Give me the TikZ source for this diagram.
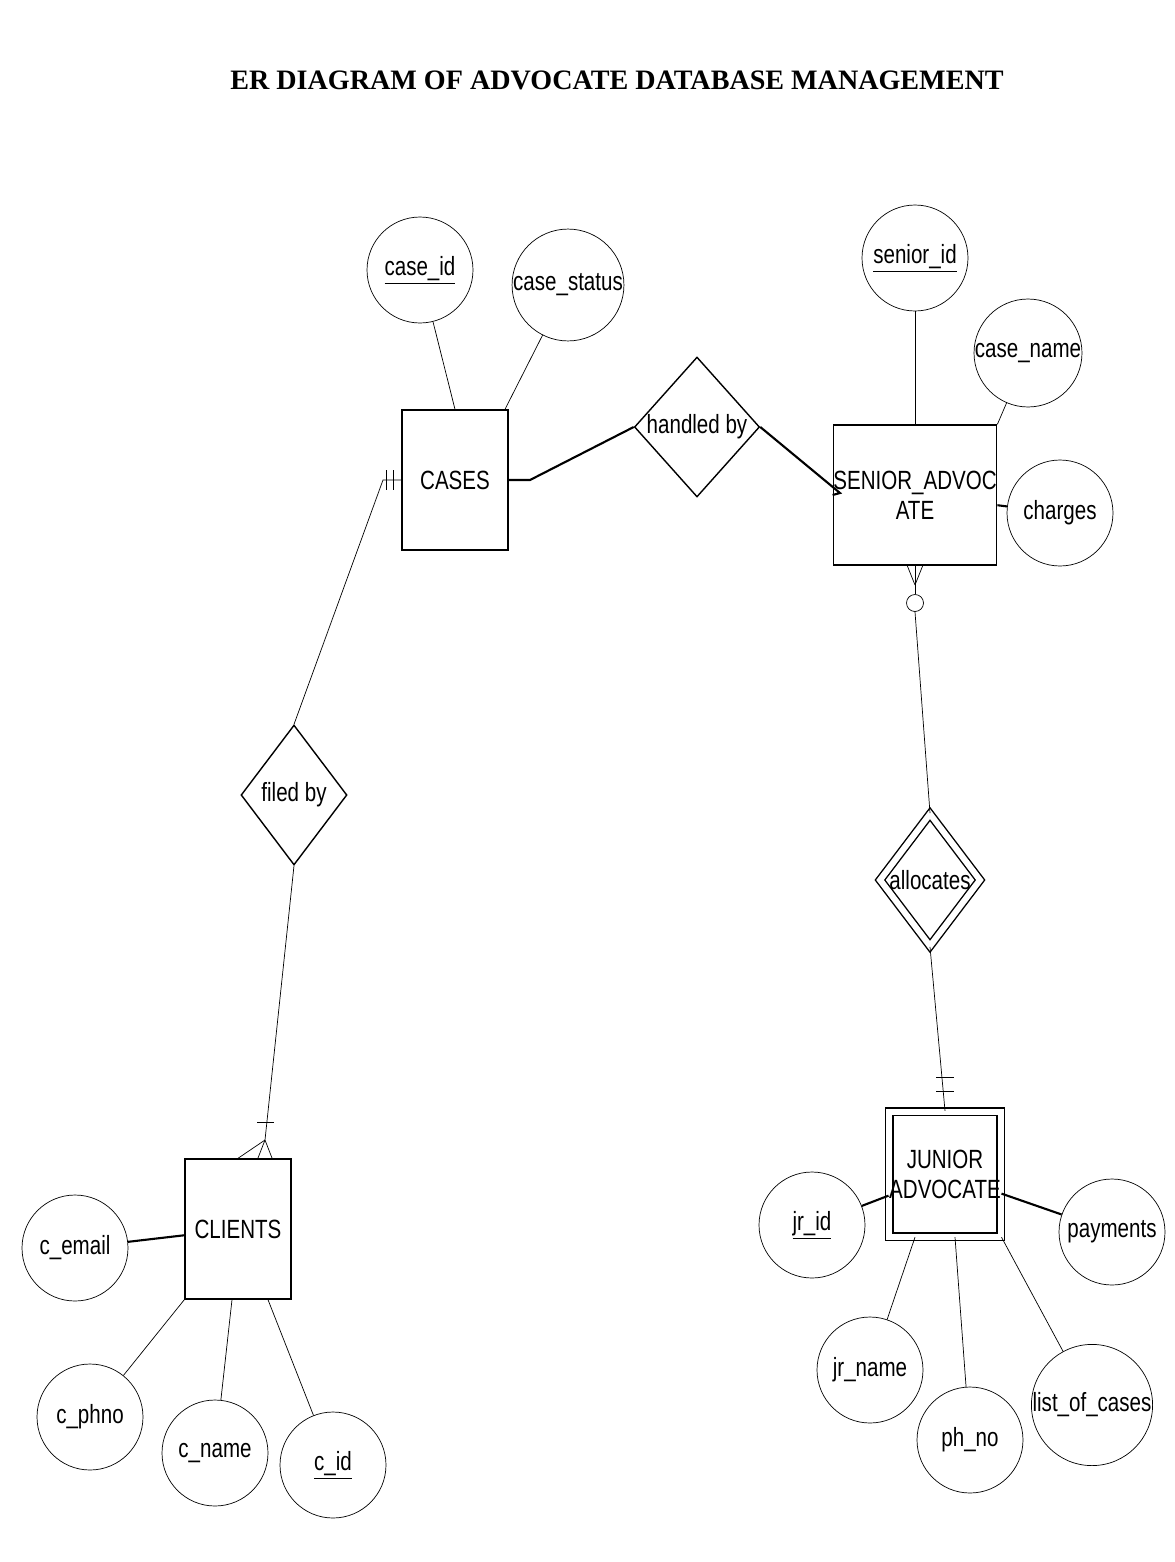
\documentclass[tikz,border=0pt]{standalone}
\usepackage{fontspec}
\setmainfont{Liberation Sans}
\newfontfamily\titlefont{Liberation Serif}
\usetikzlibrary{shapes.geometric,calc}
\begin{document}
\begin{tikzpicture}[x=0.02cm,y=-0.02cm,
  lbl/.style={font=\fontsize{15}{17}\selectfont},
  attr/.style={circle,draw,thin,minimum size=2.12cm,inner sep=0pt,lbl},
  ent/.style={rectangle,draw,thick,minimum width=2.12cm,minimum height=2.8cm,inner sep=0pt,lbl,align=center},
  rel/.style={diamond,draw,thick,minimum width=2.12cm,minimum height=2.8cm,inner sep=0pt,lbl},
  link/.style={thin},
  heavy/.style={line width=1.2pt}]
\useasboundingbox (0,0) rectangle (1174,1562);
\newcommand{\nar}[1]{\scalebox{0.78}[1]{#1}}
\node[font=\titlefont\bfseries\fontsize{16}{18}\selectfont] (title) at (617,80) {ER DIAGRAM OF ADVOCATE DATABASE MANAGEMENT};

% entities
\node[ent] (cases) at (455,480) {\nar{CASES}};
\node[ent] (senior) at (915,495) {\nar{SENIOR\_ADVOC}\\\nar{ATE}};
\node[ent] (clients) at (238,1229) {\nar{CLIENTS}};
\node[ent,minimum width=2.0cm,minimum height=2.5cm,double,double distance=0.12cm] (junior) at (945,1174) {\nar{JUNIOR}\\\nar{ADVOCATE}};

% relationships
\node[rel] (handled) at (697,427) {\nar{handled by}};
\node[rel] (filed) at (294,795) {\nar{filed by}};
\node[rel,minimum width=2.0cm,minimum height=2.65cm,double,double distance=0.12cm] (alloc) at (930,880) {\nar{allocates}};

% attributes
\node[attr] (caseid) at (420,270) {\nar{\underline{case\_id}}};
\node[attr,minimum size=2.2cm] (casestatus) at (568,285) {\nar{case\_status}};
\node[attr] (seniorid) at (915,258) {\nar{\underline{senior\_id}}};
\node[attr] (casename) at (1028,353) {\nar{case\_name}};
\node[attr] (charges) at (1060,513) {\nar{charges}};
\node[attr] (jrid) at (812,1225) {\nar{\underline{jr\_id}}};
\node[attr] (payments) at (1112,1232) {\nar{payments}};
\node[attr] (jrname) at (870,1370) {\nar{jr\_name}};
\node[attr] (phno) at (970,1440) {\nar{ph\_no}};
\node[attr] (listc) at (1092,1405) {\nar{list\_of\_cases}};
\node[attr] (cemail) at (75,1248) {\nar{c\_email}};
\node[attr] (cphno) at (90,1417) {\nar{c\_phno}};
\node[attr] (cname) at (215,1453) {\nar{c\_name}};
\node[attr] (cid) at (333,1465) {\nar{\underline{c\_id}}};

% attribute links
\draw[link] (caseid) -- (cases.north);
\draw[link] (casestatus) -- ([xshift=1cm]cases.north);
\draw[link] (seniorid) -- (senior.north);
\draw[link] (casename) -- (senior.north east);
\draw[heavy] (charges) -- (senior);
\draw[heavy] (jrid) -- (junior);
\draw[heavy] (payments) -- (junior);
\draw[link] (jrname) -- ([xshift=-0.6cm]junior.south);
\draw[link] (phno) -- ([xshift=0.2cm]junior.south);
\draw[link] (listc) -- (junior.south east);
\draw[heavy] (cemail) -- (clients);
\draw[link] (cphno) -- (clients.south west);
\draw[link] (cname) -- ([xshift=-0.12cm]clients.south);
\draw[link] (cid) -- ([xshift=0.6cm]clients.south);

% relationship links
\coordinate (c1) at (530,480);
\coordinate (c2) at (840,493);
\draw[heavy] (cases.east) -- (c1) -- (handled.west);
\draw[heavy] (handled.east) -- (c2) -- (senior.west);

\coordinate (c3) at (383,480);
\draw[link] (cases.west) -- (c3) -- (filed.north);
\draw[link] (386,470) -- (386,490) (393,470) -- (393,490);

\coordinate (c4) at (265,1140);
\draw[link] (filed.south) -- (c4) -- (clients.north);
\draw[link] (c4) -- (258,1158) (c4) -- (272,1158);
\draw[link] (257,1122) -- (274,1122);

\node[circle,draw,thin,minimum size=0.34cm,inner sep=0pt] (opt) at (915,603) {};
\coordinate (c5) at (915,585);
\draw[link] (senior.south) -- (opt.north);
\draw[link] (c5) -- (907,565) (c5) -- (923,565);
\draw[link] (opt.south) -- (alloc.north);

\draw[link] (alloc.south) -- (junior.north);
\draw[link] (936,1077) -- (954,1077) (936,1091) -- (954,1091);
\end{tikzpicture}
\end{document}
